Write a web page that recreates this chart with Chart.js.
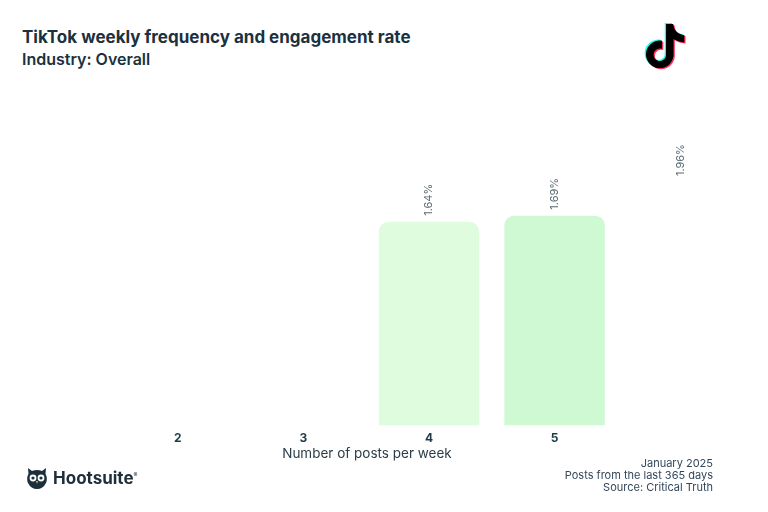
<!DOCTYPE html>
<html lang="en">
<head>
    <meta charset="UTF-8">
    <title>TikTok weekly frequency and engagement rate</title>
    <script src="https://cdn.jsdelivr.net/npm/chart.js"></script>
    <style>
        body {
            margin: 0;
            width: 768px;
            height: 512px;
            position: relative;
            background: #ffffff;
            font-family: Inter, "Open Sans", sans-serif;
            color: #1b3140;
            overflow: hidden;
        }
        #chartBox {
            position: absolute;
            left: 0;
            top: 0;
            width: 768px;
            height: 512px;
        }
        .title {
            position: absolute;
            left: 22px;
            top: 27px;
            font-size: 17px;
            font-weight: 700;
        }
        .subtitle {
            position: absolute;
            left: 22px;
            top: 49px;
            font-size: 16px;
            font-weight: 600;
        }
        .tiktok {
            position: absolute;
            left: 640px;
            top: 22px;
        }
        .axis-title {
            position: absolute;
            left: 167px;
            width: 400px;
            top: 445px;
            text-align: center;
            font-size: 13.5px;
            color: #2a3d48;
        }
        .brand {
            position: absolute;
            left: 25px;
            top: 466px;
            display: flex;
            align-items: center;
            font-size: 17px;
            font-weight: 700;
            color: #1c2f3a;
        }
        .brand span sup { font-size: 6px; font-weight: 400; }
        .footer {
            position: absolute;
            right: 55px;
            top: 457px;
            text-align: right;
            font-size: 11px;
            line-height: 12px;
            color: #33475b;
        }
    </style>
</head>
<body>
    <div class="title">TikTok weekly frequency and engagement rate</div>
    <div class="subtitle">Industry: Overall</div>

    <!-- tiktok note, 3 layers -->
    <svg class="tiktok" width="50" height="50" viewBox="0 0 24 24">
        <defs>
            <path id="note" d="M12.525.02c1.31-.02 2.61-.01 3.91-.02.08 1.53.63 3.09 1.75 4.17 1.12 1.11 2.7 1.620 4.24 1.79v4.03c-1.44-.05-2.89-.35-4.2-.97-.57-.26-1.1-.59-1.62-.93-.01 2.92.01 5.84-.02 8.75-.08 1.4-.54 2.79-1.35 3.94-1.31 1.92-3.58 3.17-5.91 3.21-1.43.08-2.86-.31-4.08-1.03-2.02-1.19-3.44-3.37-3.65-5.71-.02-.5-.03-1-.01-1.49.18-1.9 1.12-3.72 2.58-4.96 1.66-1.44 3.98-2.13 6.15-1.72.02 1.48-.04 2.96-.04 4.44-.99-.32-2.15-.23-3.02.37-.63.41-1.11 1.04-1.36 1.75-.21.51-.15 1.07-.14 1.61.24 1.64 1.82 3.02 3.5 2.87 1.12-.01 2.19-.66 2.77-1.61.19-.33.4-.67.41-1.06.1-1.79.06-3.57.07-5.36.01-4.03-.01-8.05.02-12.07z"/>
        </defs>
        <g transform="translate(1.5,1) scale(0.88)">
            <use href="#note" fill="#25f4ee" transform="translate(-0.7,-0.6)"/>
            <use href="#note" fill="#fe2c55" transform="translate(0.7,0.6)"/>
            <use href="#note" fill="#000000"/>
        </g>
    </svg>

    <div id="chartBox"><canvas id="myChart" width="768" height="512"></canvas></div>

    <div class="axis-title">Number of posts per week</div>

    <div class="brand">
        <svg width="24" height="24" viewBox="0 0 24 24">
            <path fill="#1c2f3a" d="M3 2 L7 5 Q12 3 17 5 L21 2 L20.5 8 Q23 12 21 17 Q18 23 12 23 Q6 23 3 17 Q1 12 3.5 8 Z"/>
            <circle cx="8" cy="12" r="3.4" fill="#fff"/>
            <circle cx="16" cy="12" r="3.4" fill="#fff"/>
            <circle cx="8" cy="12" r="1.6" fill="#1c2f3a"/>
            <circle cx="16" cy="12" r="1.6" fill="#1c2f3a"/>
            <path fill="#f5b43c" d="M11 15 L13 15 L12 18 Z"/>
        </svg>
        <span style="margin-left:4px">Hootsuite<sup>®</sup></span>
    </div>

    <div class="footer">
        January 2025<br>
        Posts from the last 365 days<br>
        Source: Critical Truth
    </div>

    <script>
        // data
        var categories = ['2', '3', '4', '5', '6'];
        var tickLabels = ['2', '3', '4', '5', ''];
        var engagementRates = [null, null, 1.64, 1.69, 1.96];
        var barColors = ['#ffffff', '#ffffff', '#e0fcde', '#cff9d3', '#ffffff'];

        // rotated value labels above the bars
        var valueLabels = {
            id: 'valueLabels',
            afterDatasetsDraw: function(chart) {
                var ctx = chart.ctx;
                var meta = chart.getDatasetMeta(0);
                meta.data.forEach(function(bar, i) {
                    var v = engagementRates[i];
                    if (v === null) return;
                    ctx.save();
                    ctx.translate(bar.x, bar.y - 6);
                    ctx.rotate(-Math.PI / 2);
                    ctx.font = '11px Inter, sans-serif';
                    ctx.fillStyle = '#5a6a72';
                    ctx.textAlign = 'left';
                    ctx.textBaseline = 'middle';
                    ctx.fillText(v.toFixed(2) + '%', 0, 0);
                    ctx.restore();
                });
            }
        };

        var ctx = document.getElementById('myChart').getContext('2d');
        var myChart = new Chart(ctx, {
            type: 'bar',
            data: {
                labels: categories,
                datasets: [{
                    data: engagementRates,
                    backgroundColor: barColors,
                    borderRadius: { topLeft: 10, topRight: 10 },
                    borderSkipped: 'bottom',
                    barPercentage: 1,
                    categoryPercentage: 0.8
                }]
            },
            options: {
                responsive: false,
                animation: false,
                layout: { padding: { left: 115, right: 25, top: 115, bottom: 60 } },
                plugins: {
                    legend: { display: false },
                    tooltip: { enabled: false }
                },
                scales: {
                    x: {
                        grid: { display: false, drawTicks: false },
                        border: { display: false },
                        ticks: {
                            padding: 6,
                            color: '#1f3a48',
                            font: { family: 'Inter', size: 12, weight: 'bold' },
                            callback: function(val, index) { return tickLabels[index]; }
                        }
                    },
                    y: {
                        display: false,
                        min: 0,
                        max: 2.5
                    }
                }
            },
            plugins: [valueLabels]
        });
    </script>
</body>
</html>
